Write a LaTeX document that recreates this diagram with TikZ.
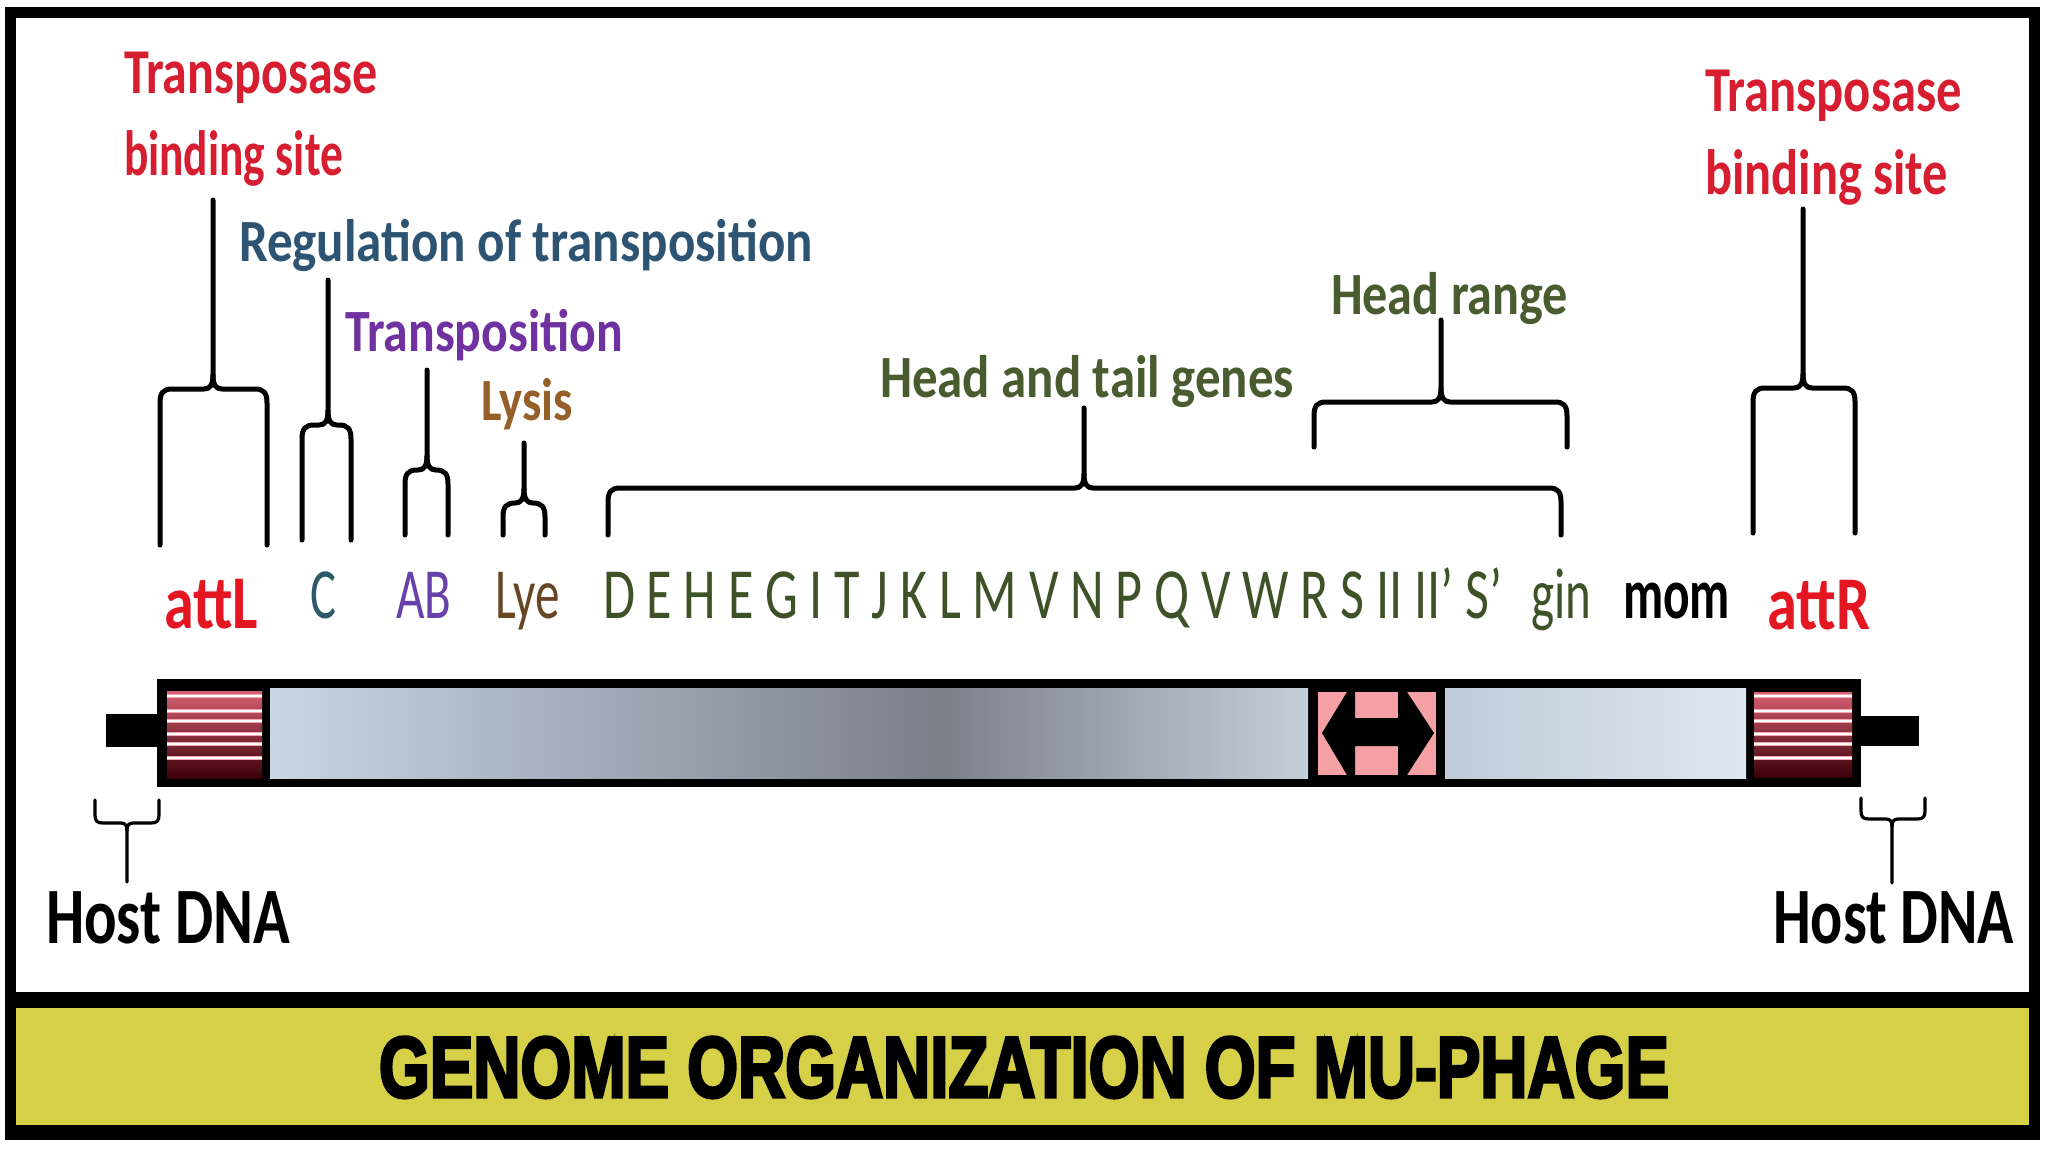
\documentclass[tikz,border=0pt]{standalone}
\usepackage{fontspec}
\usepackage{graphicx}
\setmainfont{Carlito}
\newfontfamily\titlefont{Liberation Sans Bold}[FakeBold=4]
\definecolor{tbsred}{RGB}{214,30,48}
\definecolor{attred}{RGB}{228,22,34}
\definecolor{regblue}{RGB}{45,85,115}
\definecolor{cteal}{RGB}{45,90,105}
\definecolor{trpurple}{RGB}{112,50,160}
\definecolor{abpurple}{RGB}{105,65,170}
\definecolor{lysbrown}{RGB}{150,95,40}
\definecolor{lyebrown}{RGB}{105,70,35}
\definecolor{olive}{RGB}{62,82,40}
\definecolor{headgreen}{RGB}{72,92,48}
\definecolor{yellowband}{RGB}{214,208,72}
\definecolor{barA}{RGB}{200,213,227}
\definecolor{barB}{RGB}{122,128,138}
\definecolor{barC}{RGB}{197,207,218}
\definecolor{barD}{RGB}{191,203,215}
\definecolor{barE}{RGB}{221,231,240}
\definecolor{ginpink}{RGB}{245,160,165}
\definecolor{stripeA}{RGB}{215,95,115}
\definecolor{stripeM}{RGB}{185,50,70}
\definecolor{stripeB}{RGB}{60,0,10}
\definecolor{stripepink}{RGB}{245,165,175}
\newcommand\fw[2]{\resizebox{#1pt}{\height}{#2}}
\newcommand\gbrace[6]{%
  \draw[brace] (#1,#4) -- (#1,#3+14) .. controls (#1,#3+4) and (#1+3,#3) .. (#1+12,#3) -- (#5-9,#3) .. controls (#5-3,#3) and (#5,#3-4) .. (#5,#3-14) -- (#5,#6);
  \draw[brace] (#2,#4) -- (#2,#3+14) .. controls (#2,#3+4) and (#2-3,#3) .. (#2-12,#3) -- (#5+9,#3) .. controls (#5+3,#3) and (#5,#3-4) .. (#5,#3-14);}
\newcommand\hbrace[6]{%
  \draw[hostbrace] (#1,#3) -- (#1,#4-8) .. controls (#1,#4-2) and (#1+2,#4) .. (#1+8,#4) -- (#5-6,#4) .. controls (#5-2,#4) and (#5,#4+2) .. (#5,#4+8) -- (#5,#6);
  \draw[hostbrace] (#2,#3) -- (#2,#4-8) .. controls (#2,#4-2) and (#2-2,#4) .. (#2-8,#4) -- (#5+6,#4) .. controls (#5+2,#4) and (#5,#4+2) .. (#5,#4+8);}
\begin{document}
\begin{tikzpicture}[x=0.5pt,y=-0.5pt,
  every node/.style={inner sep=0pt,outer sep=0pt},
  brace/.style={line width=2.5pt,line cap=round,line join=round},
  hostbrace/.style={line width=1.6pt,line cap=round,line join=round},
  lbl/.style={anchor=base west,font=\fontsize{30}{36}\selectfont\bfseries},
  lblbig/.style={anchor=base west,font=\fontsize{32}{38}\selectfont\bfseries},
  gene/.style={anchor=base west,font=\fontsize{36}{42}\selectfont},
  genebold/.style={anchor=base west,font=\fontsize{36}{42}\selectfont\bfseries},
  attlbl/.style={anchor=base west,font=\fontsize{38}{44}\selectfont\bfseries,text=attred},
  hostlbl/.style={anchor=base west,font=\fontsize{40}{46}\selectfont\bfseries},
]
\useasboundingbox (0,0) rectangle (2048,1152);
% frame and title band
\fill[white] (0,0) rectangle (2048,1152);
\fill[black] (5,7) rectangle (2040,1140);
\fill[white] (16,18) rectangle (2029,992);
\fill[yellowband] (16,1008) rectangle (2029,1125);
\node[anchor=base,font=\titlefont\fontsize{43}{50}\selectfont] (title) at (1024,1097) {\fw{645}{GENOME ORGANIZATION OF MU-PHAGE}};

% upper labels
\node[lblbig,text=tbsred] (tbsL1) at (124,93) {\fw{127}{Transposase}};
\node[lblbig,text=tbsred] (tbsL2) at (124,175) {\fw{109.5}{binding site}};
\node[lblbig,text=tbsred] (tbsR1) at (1705,111) {\fw{128.5}{Transposase}};
\node[lblbig,text=tbsred] (tbsR2) at (1705,194) {\fw{121.5}{binding site}};
\node[lbl,text=regblue] (reg) at (239,261) {\fw{287}{Regulation of transposition}};
\node[lbl,text=trpurple] (trp) at (345,351) {\fw{139}{Transposition}};
\node[lbl,text=lysbrown] (lys) at (481,420) {\fw{46}{Lysis}};
\node[lbl,text=headgreen] (htg) at (880,397) {\fw{207}{Head and tail genes}};
\node[lbl,text=headgreen] (hr) at (1331,314) {\fw{118.5}{Head range}};

% gene row
\node[attlbl] (attL) at (164,628) {\fw{47}{attL}};
\node[gene,text=cteal] (geneC) at (310,618) {\fw{13}{C}};
\node[gene,text=abpurple] (geneAB) at (396,618) {\fw{27.5}{AB}};
\node[gene,text=lyebrown] (lye) at (495,618) {\fw{32.5}{Lye}};
\node[gene,text=olive] (letters) at (603,618) {\fw{449.5}{D E H E G I T J K L M V N P Q V W R S II II’ S’}};
\node[gene,text=olive] (gin) at (1531,618) {\fw{30}{gin}};
\node[genebold,text=black] (mom) at (1623,618) {\fw{53.5}{mom}};
\node[attlbl] (attR) at (1767,629) {\fw{51.5}{attR}};

% brackets
\gbrace{160}{267}{389}{545}{213}{200}
\gbrace{302}{351}{425}{540}{328}{280}
\gbrace{405}{448}{470}{535}{427}{370}
\gbrace{503}{545}{503}{535}{524}{443}
\gbrace{608}{1561}{488}{535}{1084}{408}
\gbrace{1314}{1567}{402}{447}{1441}{320}
\gbrace{1753}{1855}{388}{533}{1803}{209}

% genome bar
\fill[black] (106,714) rectangle (160,747);
\fill[black] (1858,716) rectangle (1919,746);
\fill[black] (157,679) rectangle (1861,787);
\shade[left color=barA,right color=barB] (270,688) rectangle (941,778);
\shade[left color=barB,right color=barC] (940,688) rectangle (1308,778);
\shade[left color=barD,right color=barE] (1445,688) rectangle (1746,778);
\fill[ginpink] (1318,692) rectangle (1436,775);
\fill[black] (1322,733) -- (1347,692) -- (1355,692) -- (1355,718) -- (1398,718) -- (1398,692) -- (1407,692) -- (1434,733) -- (1407,775) -- (1398,775) -- (1398,746) -- (1355,746) -- (1355,775) -- (1347,775) -- cycle;
\shade[top color=stripeA,middle color=stripeM,bottom color=stripeB] (167,691) rectangle (262,778);
\shade[top color=stripeA,middle color=stripeM,bottom color=stripeB] (1754,692) rectangle (1852,777);
\foreach \yy in {696,711,721,734,744,758}{
  \draw[stripepink,line width=2.4pt] (167,\yy) -- (262,\yy);
  \draw[white,line width=1.1pt] (167,\yy) -- (262,\yy);
  \draw[stripepink,line width=2.4pt] (1754,\yy) -- (1852,\yy);
  \draw[white,line width=1.1pt] (1754,\yy) -- (1852,\yy);
}

% host DNA
\hbrace{95}{159}{800}{823}{127}{882}
\hbrace{1861}{1925}{798}{819}{1892}{883}
\node[hostlbl] (hostL) at (46,943) {\fw{122}{Host DNA}};
\node[hostlbl] (hostR) at (1773,943) {\fw{120.5}{Host DNA}};
\end{tikzpicture}
\end{document}
